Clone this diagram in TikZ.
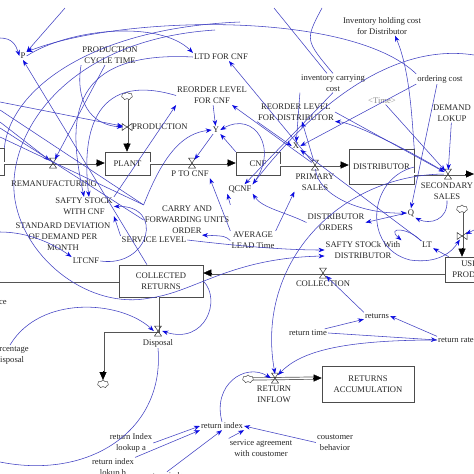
\documentclass[tikz,border=0pt]{standalone}
\usepackage{fontspec}
\setmainfont{Liberation Serif}
\usetikzlibrary{arrows.meta,shapes.symbols,calc}
\definecolor{linkc}{RGB}{65,65,195}
\definecolor{tipc}{RGB}{10,10,225}
\definecolor{pipec}{RGB}{85,85,85}
\tikzset{
 hv/.pic={\draw[black!80, line width=0.5pt] (-3.5,-5) -- (3.5,-5) -- (-3.5,5) -- (3.5,5) -- cycle;},
 vv/.pic={\draw[black!80, line width=0.5pt] (-5,-3.5) -- (-5,3.5) -- (5,-3.5) -- (5,3.5) -- cycle;},
}
\newcommand\pipedraw[2][]{\draw[pipeo,#1] #2; \draw[pipei,#1] #2;}
\begin{document}
\begin{tikzpicture}[x=1pt,y=-1pt,
  lbl/.style={font=\fontsize{8.6}{11}\selectfont, align=center, inner sep=1pt, text=black!85},
  stock/.style={draw=black!70, line width=0.6pt, fill=white, font=\fontsize{8.6}{11}\selectfont, align=center, text=black!85, inner sep=1pt},
  valve/.style={circle, minimum size=8pt, inner sep=0pt},
  cloudn/.style={cloud, draw=black!70, line width=0.5pt, cloud puffs=7, minimum width=11pt, minimum height=8pt, inner sep=0pt, aspect=1.4, fill=white},
  link/.style={draw=linkc, line width=0.55pt, -{Stealth[length=6pt,width=4.5pt,color=tipc]}},
  plainlink/.style={draw=linkc, line width=0.55pt},
  pipeo/.style={draw=pipec, line width=3pt},
  pipei/.style={draw=white, line width=1.6pt},
  ptip/.style={-{Triangle[length=8pt,width=7pt]}, black, line width=0.2pt},
]
\useasboundingbox (0,0) rectangle (474,474);
\fill[white] (0,0) rectangle (474,474);

% ---------- stocks ----------
\node[stock, minimum width=30pt, minimum height=27pt] (LB) at (-11,162) {};
\node[stock, minimum width=45pt, minimum height=23pt] (PLANT) at (127.5,163.5) {PLANT};
\node[stock, minimum width=44pt, minimum height=23pt] (CNF) at (258,163.5) {CNF};
\node[stock, minimum width=65pt, minimum height=35pt] (DIST) at (381.5,167) {DISTRIBUTOR};
\node[stock, minimum width=84pt, minimum height=32pt] (CR) at (161,281) {COLLECTED\\RETURNS};
\node[stock, minimum width=55pt, minimum height=25pt] (UP) at (472.5,269.5) {USED\\PRODUCT};
\node[stock, minimum width=92pt, minimum height=36pt] (RA) at (368,384) {RETURNS\\ACCUMULATION};

% ---------- valves and clouds ----------
\node[valve] (remv) at (53,163) {};
\node[valve] (ptcv) at (192,163) {};
\node[valve] (psv) at (315,165) {};
\node[valve] (ssv) at (448,174) {};
\node[valve] (prodv) at (127,127) {};
\node[valve] (upv) at (462,236) {};
\node[valve] (colv) at (323,273) {};
\node[valve] (disv) at (158,331) {};
\node[valve] (riv) at (275,378) {};
\coordinate (rE) at (474,174);
\coordinate (lE) at (-2,281);
\coordinate (dC) at (103,331);
\coordinate (cpp) at (127,96);
\coordinate (cuu) at (462,209);
\coordinate (cdd) at (103,384);
\coordinate (crr) at (248,379);

% ---------- pipes ----------
\pipedraw[shorten >=7pt]{(LB.east |- remv) -- (PLANT.west |- remv)}
\draw[ptip] ($(PLANT.west |- remv)+(-9,0)$) -- (PLANT.west |- remv);
\pipedraw[shorten >=7pt]{(PLANT.east |- ptcv) -- (CNF.west |- ptcv)}
\draw[ptip] ($(CNF.west |- ptcv)+(-9,0)$) -- (CNF.west |- ptcv);
\pipedraw[shorten >=7pt]{(CNF.east |- psv) -- (DIST.west |- psv)}
\draw[ptip] ($(DIST.west |- psv)+(-9,0)$) -- (DIST.west |- psv);
\pipedraw[shorten >=7pt]{(DIST.east |- ssv) -- (rE)}
\draw[ptip] ($(rE)+(-9,0)$) -- (rE);
\pipedraw[shorten >=7pt]{(cpp) -- (PLANT.north -| prodv)}
\draw[ptip] ($(PLANT.north -| prodv)+(0,-9)$) -- (PLANT.north -| prodv);
\pipedraw[shorten >=7pt]{(cuu) -- (UP.north -| upv)}
\draw[ptip] ($(UP.north -| upv)+(0,-9)$) -- (UP.north -| upv);
\pipedraw[shorten >=7pt]{(UP.west |- colv) -- (CR.east |- colv)}
\draw[ptip] ($(CR.east |- colv)+(9,0)$) -- (CR.east |- colv);
\pipedraw{(CR.west) -- (lE)}
\pipedraw[shorten >=11pt]{(disv |- CR.south) -- (disv.center) -- (dC) -- (cdd)}
\draw[ptip] ($(cdd)+(0,-13)$) -- ($(cdd)+(0,-4)$);
\pipedraw[shorten >=7pt]{(crr) -- (RA.west |- riv)}
\draw[ptip] ($(RA.west |- riv)+(-9,0)$) -- (RA.west |- riv);

\node[cloudn] (cloudp) at (cpp) {};
\node[cloudn] (cloudu) at (cuu) {};
\node[cloudn] (cloudd) at (cdd) {};
\node[cloudn] (cloudr) at (crr) {};

\pic at (remv) {hv};
\pic at (ptcv) {hv};
\pic at (psv) {hv};
\pic at (ssv) {hv};
\pic at (prodv) {vv};
\pic at (upv) {vv};
\pic at (colv) {hv};
\pic at (disv) {hv};
\pic at (riv) {hv};

% ---------- labels ----------
\node[lbl] (P) at (23,56) {P};
\node[lbl] (PCT) at (110,55.5) {PRODUCTION\\CYCLE TIME};
\node[lbl] (LTD) at (221,57) {LTD FOR CNF};
\node[lbl] (IHC) at (382,26) {Inventory holding cost\\for Distributor};
\node[lbl] (ICC) at (333,83) {inventory carrying\\cost};
\node[lbl] (OC) at (440,79) {ordering cost};
\node[lbl, text=black!45] (TIME) at (382,100.5) {<Time>};
\node[lbl] (DL) at (452,113) {DEMAND\\LOKUP};
\node[lbl] (RLC) at (212,95.5) {REORDER LEVEL\\FOR CNF};
\node[lbl] (RLD) at (296,112) {REORDER LEVEL\\FOR DISTRIBUTOR};
\node[lbl, anchor=west] (prodl) at (131,126.5) {PRODUCTION};
\node[lbl] (Y) at (216,130) {Y};
\node[lbl] (X) at (296,146) {X};
\node[lbl] (reml) at (54,184) {REMANUFACTURING};
\node[lbl] (ptcl) at (190,174) {P TO CNF};
\node[lbl] (psl) at (315,182) {PRIMARY\\SALES};
\node[lbl] (ssl) at (447,191) {SECONDARY\\SALES};
\node[lbl] (QCNF) at (240,189) {QCNF};
\node[lbl] (SSC) at (84,206.5) {SAFTY STOCK\\WITH CNF};
\node[lbl] (CFU) at (187,220) {CARRY AND\\FORWARDING UNITS\\ORDER};
\node[lbl] (SD) at (63,237) {STANDARD DEVIATION\\OF DEMAND PER\\MONTH};
\node[lbl] (SL) at (154,240) {SERVICE LEVEL};
\node[lbl] (ALT) at (253,240.5) {AVERAGE\\LEAD Time};
\node[lbl] (DO) at (336,222.5) {DISTRIBUTOR\\ORDERS};
\node[lbl] (Q) at (411,213) {Q};
\node[lbl] (SSD) at (363,250) {SAFTY STOCk With\\DISTRIBUTOR};
\node[lbl] (LT) at (427,245) {LT};
\node[lbl] (LTCNF) at (86,261) {LTCNF};
\node[lbl] (coll) at (323,284) {COLLECTION};
\node[lbl, anchor=east] (ce) at (8,303) {ce};
\node[lbl] (pctd) at (10,355) {percentage\\disposal};
\node[lbl] (disl) at (158,343) {Disposal};
\node[lbl] (returns) at (377,316) {returns};
\node[lbl] (rtime) at (308,333) {return time};
\node[lbl, anchor=west] (rrate) at (437,340) {return rate};
\node[lbl] (ril) at (274,394.5) {RETURN\\INFLOW};
\node[lbl] (rix) at (222,426) {return index};
\node[lbl] (rila) at (131,443) {return Index\\lookup a};
\node[lbl] (sac) at (261,448) {service agreement\\with coustomer};
\node[lbl] (cbh) at (335,442.5) {coustomer\\behavior};
\node[lbl] (rilb) at (113,468) {return index\\lokup b};
\node[lbl] (rib) at (167,476) {return index};

% ---------- free ends ----------
\coordinate (t1) at (65,8);
\coordinate (t2) at (274,8);
\coordinate (t3) at (322,8);
\coordinate (l1) at (0,38);
\coordinate (l2) at (0,102);
\coordinate (l3) at (0,122);
\coordinate (l5) at (0,232);
\coordinate (l6) at (0,110);
\coordinate (l7) at (0,128);
\coordinate (l8) at (0,137);
\coordinate (a1s) at (240,22);
\coordinate (a2s) at (215,30);
\coordinate (r1) at (474,55);
\coordinate (r2) at (474,230);
\coordinate (bl) at (0,462);

% ---------- links ----------
\draw[link] (t1) -- (P);
\draw[link] (OC.north west) .. controls (350,10) and (120,15) .. (P.north east);
\draw[link] (P.east) .. controls (70,28) and (160,20) .. (LTD.north west);
\draw[link] (l1) .. controls (12,38) and (16,45) .. (P.west);
\draw[link] ([xshift=-14pt]CR.north) -- (P.south);
\draw[plainlink] (a1s) .. controls (90,28) and (10,90) .. (LB.north east);
\draw[link] (a2s) .. controls (60,40) and (5,140) .. (15,200) .. controls (25,260) and (90,310) .. (150,298) .. controls (195,292) and (230,258) .. ([yshift=-6pt]SSD.west);
\draw[link] (PCT.south west) .. controls (75,100) and (90,125) .. (prodv.west);
\draw[link] ([xshift=-5pt]PCT.south) -- (remv);
\draw[link] (l2) -- (prodv);
\draw[link] (l3) -- (remv);
\draw[link] (SSC.north east) -- (RLC.south west);
\draw[link] (RLC) -- (Y);
\draw[link] (CFU.north west) .. controls (165,150) and (185,133) .. (Y.west);
\draw[link] (CNF.north west) -- (Y.south east);
\draw[link] (QCNF.north east) .. controls (280,150) and (255,110) .. (Y.east);
\draw[link] (Y) -- (ptcv);
\draw[link] (psv) -- ([xshift=8pt]LTD.south);
\draw[link] (psv) -- ([xshift=20pt]RLC.south);
\draw[link] (ICC.south west) -- (X);
\draw[link] (ICC.south) -- (QCNF);
\draw[link] (OC.south west) -- (X.east);
\draw[link] ([xshift=-3pt]OC.south) -- (Q.north);
\draw[link] (TIME) -- (ssv);
\draw[link] (DL) -- (ssv);
\draw[link] (DIST.north east) .. controls (412,120) and (410,70) .. ([xshift=13pt]IHC.south);
\draw[plainlink] ([xshift=-6pt]ICC.north) -- (t2);
\draw[plainlink] (ICC.north) .. controls (305,40) .. (t3);
\draw[link] (r1) .. controls (390,42) and (310,110) .. (QCNF.north east);
\draw[link] (ssv) .. controls (400,145) and (350,122) .. (RLD.south east);
\draw[link] (psv) -- ([xshift=6pt]RLD.south);
\draw[link] (RLD.south west) -- (X.west);
\draw[link] (LT) -- (X.south east);
\draw[link] (ALT.north east) -- (psl.south west);
\draw[link] (DO.west) .. controls (285,212) and (262,208) .. (QCNF.south east);
\draw[link] (Q.west) -- (DO.east);
\draw[link] (psv) .. controls (318,195) and (360,214) .. (Q.west);
\draw[link] (ssl.south) .. controls (448,220) and (430,225) .. (Q.south east);
\draw[link] (LT.north west) .. controls (410,228) and (385,226) .. (SSD.north east);
\draw[link] (UP) -- (LT);
\draw[link] (DIST.east) .. controls (368,178) and (362,248) .. (410,260) .. controls (438,264) and (452,252) .. (upv);
\draw[link] (ssv) .. controls (340,175) and (255,262) .. (riv.north);
\draw[link] (RLD.east) -- (ssv);
\draw[link] (LTD.west) .. controls (60,50) and (70,130) .. (SSC.north);
\draw[link] (RLC.west) .. controls (90,70) and (82,140) .. ([xshift=5pt]SSC.north);
\draw[link] (LTCNF.east) .. controls (150,268) and (165,205) .. (SSC.east);
\draw[link] (SL.north west) -- (SSC.south east);
\draw[link] (l5) .. controls (30,232) and (55,245) .. (LTCNF.north west);
\draw[plainlink] (l6) -- (CFU.north west);
\draw[plainlink] (l7) -- (CFU.west);
\draw[plainlink] (l8) -- (CFU.north west);
\draw[link] (ALT.north west) -- (ptcl.south east);
\draw[link] (ALT.west) .. controls (225,236) .. ([xshift=15pt]CFU.south);
\draw[link] (CFU.north east) -- (QCNF.south west);
\draw[link] (SL.east) .. controls (230,245) and (280,250) .. (SSD.west);
\draw[link] (CR.east) .. controls (222,300) and (205,345) .. (disv.east);
\draw[link] (pctd.north) .. controls (40,295) and (120,300) .. (disv.west);
\draw[plainlink] (disl.south) .. controls (165,430) and (90,480) .. (bl);
\draw[link] (returns.north west) -- (colv);
\draw[link] (rtime) -- (returns);
\draw[link] (rtime.east) -- (rrate.west);
\draw[link] (rrate.north west) -- (returns.east);
\draw[link] (rrate.west) .. controls (340,340) and (300,352) .. (riv.north east);
\draw[link] (rix.north) .. controls (212,385) and (245,362) .. (riv.west);
\draw[link] (rila.east) -- (rix.west);
\draw[link] (rilb.north east) -- (rix.south west);
\draw[link] (rib.north) -- (rix.south);
\draw[link] (sac.north west) -- (rix.south east);
\draw[link] (cbh.west) -- (rix.east);
\draw[link] (r2) -- (upv);
\end{tikzpicture}
\end{document}
